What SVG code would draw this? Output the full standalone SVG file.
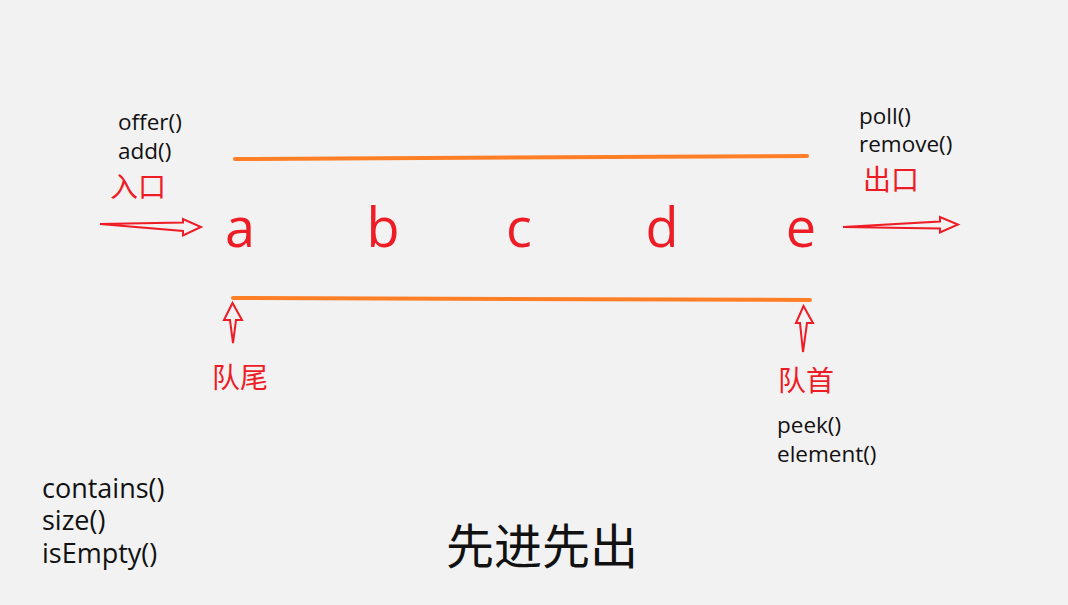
<svg xmlns="http://www.w3.org/2000/svg" width="1068" height="605" viewBox="0 0 1068 605">
<style>
.bg{fill:#f2f2f2}
.m{font-family:"Open Sans","Noto Sans",sans-serif;fill:#111}
.s{font-size:22.5px}
.l{font-size:27px}
.cn{font-family:"Noto Sans CJK SC","Noto Sans",sans-serif;fill:#ee1c25;font-size:28px}
.big{font-family:"Noto Sans CJK SC",sans-serif;fill:#111;font-size:48px}
.el{font-family:"Open Sans","Noto Sans",sans-serif;fill:#ee1c25;font-size:54px;text-anchor:middle}
.bar{stroke:#ff7f27;stroke-width:4;fill:none;stroke-linecap:round}
.arr{stroke:#ee1c25;stroke-width:2;fill:none;stroke-linejoin:miter}
</style>
<rect class="bg" x="0" y="0" width="1068" height="605"/>
<g id="queue">
<path class="bar" d="M235,159 L807,156"/>
<path class="bar" d="M233,298 L810,300"/>
</g>
<g id="elements">
<text class="el" x="240" y="247">a</text>
<text class="el" x="383" y="247">b</text>
<text class="el" x="519" y="247">c</text>
<text class="el" x="662" y="247">d</text>
<text class="el" x="801" y="247">e</text>
</g>
<g id="entry">
<text class="m s" x="118" y="130">offer()</text>
<text class="m s" x="118" y="159">add()</text>
<text class="cn" x="110" y="197">入口</text>
</g>
<g id="exit">
<text class="m s" x="859" y="124">poll()</text>
<text class="m s" x="859" y="152">remove()</text>
<text class="cn" x="863" y="190">出口</text>
</g>
<g id="tail">
<text class="cn" x="212" y="388">队尾</text>
</g>
<g id="head">
<text class="cn" x="778" y="391">队首</text>
<text class="m s" x="777" y="433">peek()</text>
<text class="m s" x="777" y="462">element()</text>
</g>
<g id="common">
<text class="m l" x="42" y="498">contains()</text>
<text class="m l" x="42" y="530">size()</text>
<text class="m l" x="42" y="563">isEmpty()</text>
</g>
<g id="title">
<text class="big" x="446" y="564">先进先出</text>
</g>
<g id="connectors">
<path class="arr" d="M100,224 L183,222.5 L183,219 L201,227 L183,235.5 L183,231 Z"/>
<path class="arr" d="M843,227 L940,221.5 L940,217 L958,224.5 L940,232.5 L940,228.5 Z"/>
<path class="arr" d="M233,343 L236,320 L242,320 L232.5,303 L224,320 L230,320 Z"/>
<path class="arr" d="M803,352 L807,323 L813,323 L803.5,306 L796,323 L800,323 Z"/>
</g>
</svg>
